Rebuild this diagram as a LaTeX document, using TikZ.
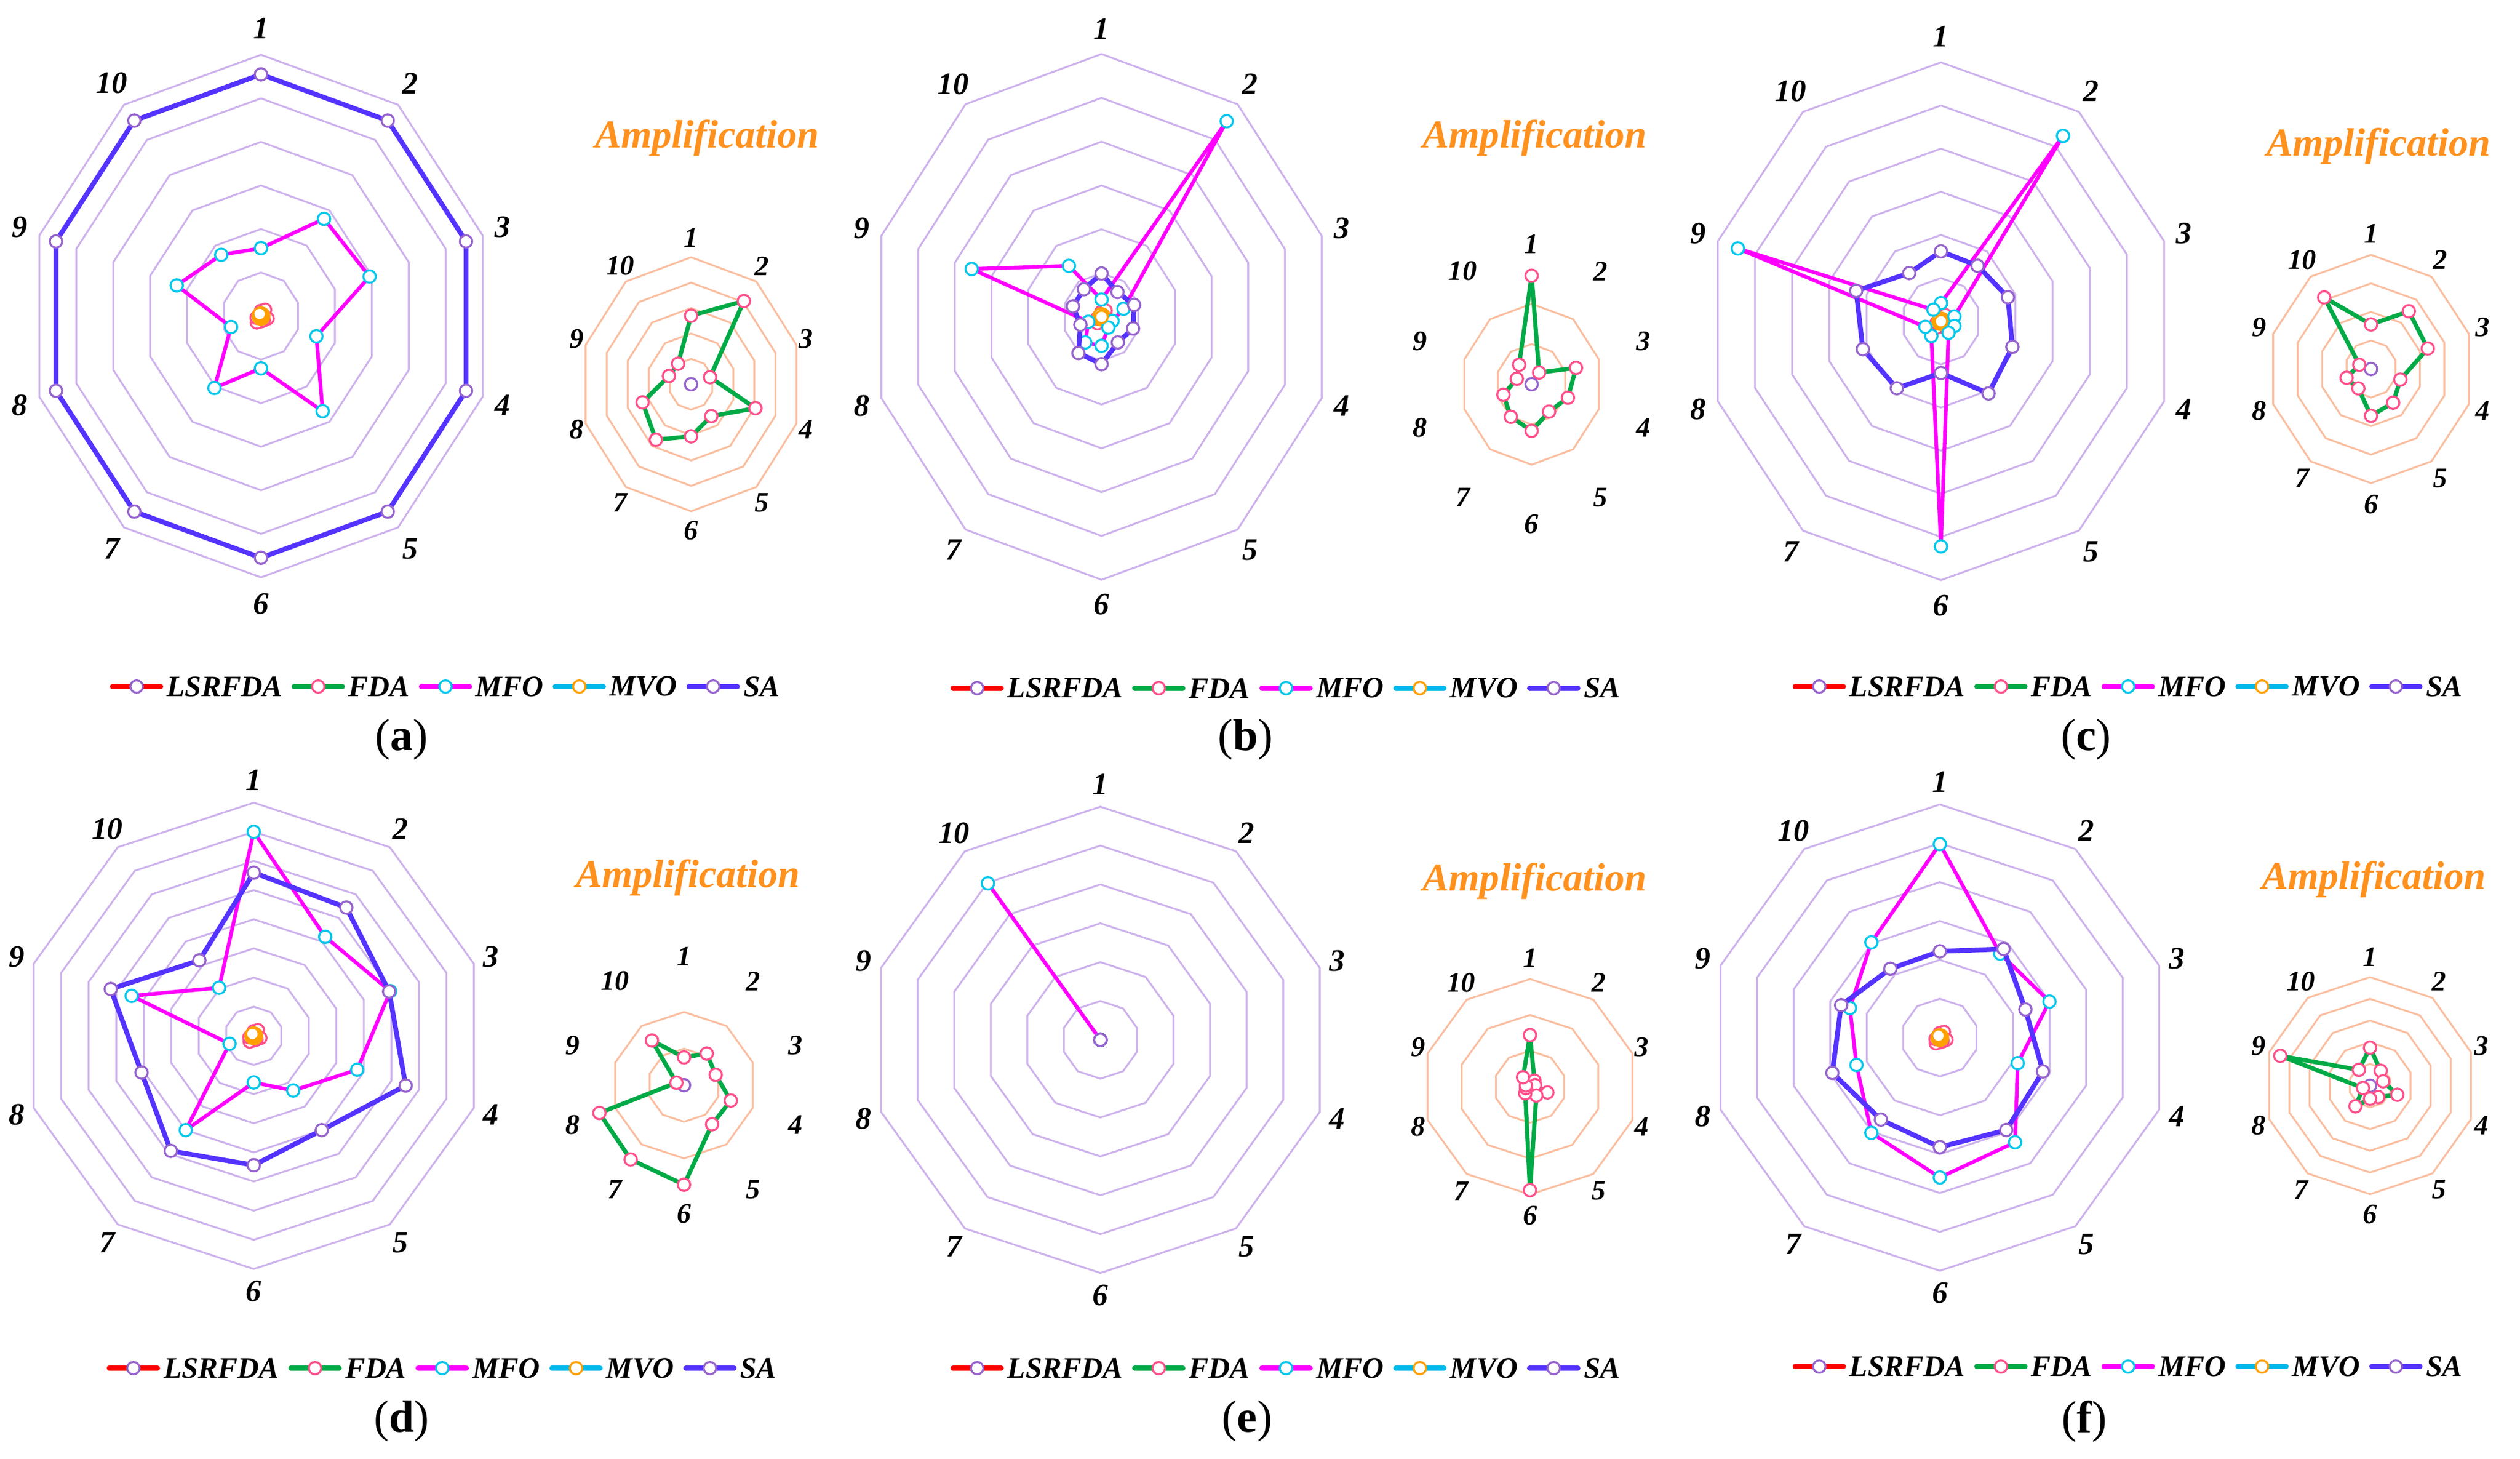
\documentclass[tikz,border=0pt]{standalone}
\usepackage{fontspec}
\setmainfont{Liberation Serif}[BoldFont={Liberation Serif Bold},ItalicFont={Liberation Serif Italic},BoldItalicFont={Liberation Serif Bold Italic}]
\usetikzlibrary{calc}
\definecolor{ringP}{RGB}{205,178,236}
\definecolor{ringO}{RGB}{250,190,160}
\definecolor{SAc}{RGB}{85,51,255}
\definecolor{SAm}{RGB}{150,100,205}
\definecolor{MFOc}{RGB}{255,0,255}
\definecolor{MFOm}{RGB}{0,200,235}
\definecolor{FDAc}{RGB}{0,170,70}
\definecolor{FDAm}{RGB}{255,80,140}
\definecolor{MVOc}{RGB}{0,185,235}
\definecolor{MVOm}{RGB}{255,160,0}
\definecolor{LSc}{RGB}{255,0,0}
\definecolor{ampT}{RGB}{255,145,30}
\tikzset{
  ringline/.style={line width=0.65pt},
  mk/.style={circle,draw=#1,fill=white,line width=0.7pt,minimum size=4.4pt,inner sep=0pt},
  saline/.style={draw=SAc,line width=1.7pt,line join=round},
  mfoline/.style={draw=MFOc,line width=1.3pt,line join=round},
  fdaline/.style={draw=FDAc,line width=1.5pt,line join=round},
  lsline/.style={draw=LSc,line width=1.3pt},
  mvoline/.style={draw=MVOc,line width=1.3pt},
  legline/.style={line width=1.8pt,line cap=round},
  mainlab/.style={font=\fontsize{11}{12}\selectfont\bfseries\itshape,inner sep=0pt},
  amplab/.style={font=\fontsize{10}{11}\selectfont\bfseries\itshape,inner sep=0pt},
  legtext/.style={font=\fontsize{10.5}{12}\selectfont\bfseries\itshape,inner sep=1pt,anchor=west},
  amptitle/.style={font=\fontsize{14}{16}\selectfont\bfseries\itshape,text=ampT},
  captext/.style={font=\fontsize{16}{18}\selectfont},
}
\newcommand\Rings[6]{%
  \foreach \rr in {1,...,#5}{%
    \draw[ringline,draw=#6] plot[samples at={0,36,...,324}] ({#1+\rr/#5*#3*cos(\x+90)},{#2-\rr/#5*#4*sin(\x+90)}) -- cycle;}}
\newcommand\Labels[6]{%
  \foreach \i in {1,...,10}{%
    \node[#6] (#1\i) at ({#2+#4*cos(126-36*\i)},{#3-#5*sin(126-36*\i)}) {\i};}}
\newcommand\Series[8]{%
  \foreach \v [count=\i] in {#6}{%
    \coordinate (#1\i) at ({#2+\v*#4*cos(126-36*\i)},{#3-\v*#5*sin(126-36*\i)});}
  \draw[#7] (#11) \foreach \i in {2,...,10}{ -- (#1\i)} -- cycle;
  \foreach \i in {1,...,10}{\node[mk=#8] (#1m\i) at (#1\i) {};}}
\newcommand\LegItem[6]{%
  \draw[legline,#4] (#3) -- ++(30,0) coordinate (#1e#2);
  \node[mk=#5] (#1m#2) at ($(#3)!0.5!(#1e#2)$) {};
  \node[legtext] (#1t#2) at ([xshift=1pt]#1e#2) {#6};
  \coordinate (#1s#2) at ([xshift=3pt]#1t#2.east);}
\newcommand\Legend[3]{%
  \coordinate (#1s0) at (#2,#3);
  \LegItem{#1}{1}{#1s0}{draw=LSc}{SAm}{LSRFDA}
  \LegItem{#1}{2}{#1s1}{draw=FDAc}{FDAm}{FDA}
  \LegItem{#1}{3}{#1s2}{draw=MFOc}{MFOm}{MFO}
  \LegItem{#1}{4}{#1s3}{draw=MVOc}{MVOm}{MVO}
  \LegItem{#1}{5}{#1s4}{draw=SAc}{SAm}{SA}}
\newcommand\Center[5]{%
  \Series{#1L}{#2}{#3}{#4}{#5}{0,0,0,0,0,0,0,0,0,0}{lsline}{SAm}
  \Series{#1F}{#2}{#3}{#4}{#5}{.02,.03,.01,.03,.02,.02,.03,.02,.01,.01}{fdaline}{FDAm}
  \Series{#1V}{#2}{#3}{#4}{#5}{.01,.01,.01,.01,.01,.01,.01,.01,.01,.01}{mvoline}{MVOm}}
\begin{document}
\begin{tikzpicture}[x=0.02cm,y=-0.02cm]
\useasboundingbox[fill=white] (0,0) rectangle (1568,907.5);
% ================= (a)
\Rings{162.4}{196.6}{145}{162.5}{6}{ringP}
\Labels{aL}{162.4}{196.6}{158}{179}{mainlab}
\Center{aC}{162.4}{196.6}{145}{162.5}
\Series{aM}{162.4}{196.6}{145}{162.5}{.26,.46,.49,.25,.45,.20,.34,.135,.38,.29}{mfoline}{MFOm}
\Series{aS}{162.4}{196.6}{145}{162.5}{.925,.925,.925,.925,.925,.925,.925,.925,.925,.925}{saline}{SAm}
\Rings{430}{239}{69}{79}{5}{ringO}
\Labels{aA}{430}{239}{75}{91}{amplab}
\Series{aAF}{430}{239}{69}{79}{.54,.81,.18,.61,.31,.41,.54,.46,.21,.2}{fdaline}{FDAm}
\node[mk=SAm] (aAL) at (430,239) {};
\node[amptitle] (aT) at (440,86) {Amplification};
\Legend{aG}{70}{427}
\node[captext] (aCap) at (250,460) {(\textbf{a})};
% ================= (b)
\Rings{685.4}{197.1}{144}{163.5}{6}{ringP}
\Labels{bL}{685.4}{197.1}{157}{179}{mainlab}
\Center{bC}{685.4}{197.1}{144}{163.5}
\Series{bM}{685.4}{197.1}{144}{163.5}{.066,.92,.10,.05,.05,.11,.12,.06,.59,.24}{mfoline}{MFOm}
\Series{bS}{685.4}{197.1}{144}{163.5}{.165,.117,.148,.143,.12,.18,.17,.096,.13,.13}{saline}{SAm}
\node[mk=MVOm] (bV0) at (685.4,197.1) {};
\Rings{953}{239}{44}{50}{2}{ringO}
\Labels{bA}{953}{239}{73}{87}{amplab}
\node[mk=SAm] (bAL) at (953,239) {};
\Series{bAF}{953}{239}{44}{50}{1.35,.18,.66,.54,.42,.58,.5,.42,.22,.3}{fdaline}{FDAm}
\node[amptitle] (bT) at (955,86) {Amplification};
\Legend{bG}{593}{428}
\node[captext] (bCap) at (775,460) {(\textbf{b})};
% ================= (c)
\Rings{1207.7}{199.8}{146}{161}{6}{ringP}
\Labels{cL}{1207.7}{199.8}{159}{177}{mainlab}
\Center{cC}{1207.7}{199.8}{146}{161}
\Series{cM}{1207.7}{199.8}{146}{161}{.07,.885,.06,.06,.055,.87,.07,.07,.91,.055}{mfoline}{MFOm}
\Series{cS}{1207.7}{199.8}{146}{161}{.27,.265,.30,.32,.345,.2,.32,.35,.38,.23}{saline}{SAm}
\node[mk=MVOm] (cV0) at (1207.7,199.8) {};
\Rings{1475.3}{229.5}{64}{71}{4}{ringO}
\Labels{cA}{1475.3}{229.5}{73}{84}{amplab}
\node[mk=SAm] (cAL) at (1475.3,229.5) {};
\Series{cAF}{1475.3}{229.5}{64}{71}{.39,.625,.58,.30,.365,.41,.21,.25,.12,.775}{fdaline}{FDAm}
\node[amptitle] (cT) at (1480,91) {Amplification};
\Legend{cG}{1117}{427}
\node[captext] (cCap) at (1298,460) {(\textbf{c})};
% ================= (d)
\Rings{157.9}{644.3}{144}{145}{8}{ringP}
\Labels{dL}{157.9}{644.3}{155}{159}{mainlab}
\Center{dC}{157.9}{644.3}{144}{145}
\Series{dM}{157.9}{644.3}{144}{145}{.875,.525,.62,.47,.29,.2,.5,.11,.555,.255}{mfoline}{MFOm}
\Series{dS}{157.9}{644.3}{144}{145}{.7,.68,.615,.69,.5,.555,.61,.51,.65,.4}{saline}{SAm}
\Rings{425.6}{675}{45}{45.5}{2}{ringO}
\Labels{dA}{425.6}{675}{73}{80}{amplab}
\node[mk=SAm] (dAL) at (425.6,675) {};
\Series{dAF}{425.6}{675}{45}{45.5}{.38,.535,.46,.68,.66,1.36,1.255,1.23,.11,.755}{fdaline}{FDAm}
\node[amptitle] (dT) at (428,546) {Amplification};
\Legend{dG}{68}{851}
\node[captext] (dCap) at (250,884) {(\textbf{d})};
% ================= (e)
\Rings{684.7}{646.8}{143.5}{145}{6}{ringP}
\Labels{eL}{684.7}{646.8}{155}{159}{mainlab}
\Series{eM}{684.7}{646.8}{143.5}{145}{0,0,0,0,0,0,0,0,0,.83}{mfoline}{MFOm}
\Series{eS}{684.7}{646.8}{143.5}{145}{0,0,0,0,0,0,0,0,0,0}{saline}{SAm}
\Rings{952}{676}{67}{67}{3}{ringO}
\Labels{eA}{952}{676}{73}{80}{amplab}
\node[mk=SAm] (eAL) at (952,676) {};
\Series{eAF}{952}{676}{67}{67}{.48,.07,.05,.17,.1,.96,.075,.04,.04,.11}{fdaline}{FDAm}
\node[amptitle] (eT) at (955,548) {Amplification};
\Legend{eG}{593}{851}
\node[captext] (eCap) at (776,884) {(\textbf{e})};
% ================= (f)
\Rings{1207}{645.4}{143.5}{145}{6}{ringP}
\Labels{fL}{1207}{645.4}{155}{159}{mainlab}
\Center{fC}{1207}{645.4}{143.5}{145}
\Series{fM}{1207}{645.4}{143.5}{145}{.83,.445,.50,.355,.555,.6,.505,.38,.41,.505}{mfoline}{MFOm}
\Series{fS}{1207}{645.4}{143.5}{145}{.37,.47,.39,.47,.49,.47,.435,.49,.45,.365}{saline}{SAm}
\Rings{1474.7}{675.3}{66}{67.5}{5}{ringO}
\Labels{fA}{1474.7}{675.3}{73}{80}{amplab}
\node[mk=SAm] (fAL) at (1474.7,675.3) {};
\Series{fAF}{1474.7}{675.3}{66}{67.5}{.35,.17,.13,.27,.13,.12,.235,.07,.89,.18}{fdaline}{FDAm}
\node[amptitle] (fT) at (1477,547) {Amplification};
\Legend{fG}{1117}{850}
\node[captext] (fCap) at (1297,884) {(\textbf{f})};
\end{tikzpicture}
\end{document}
